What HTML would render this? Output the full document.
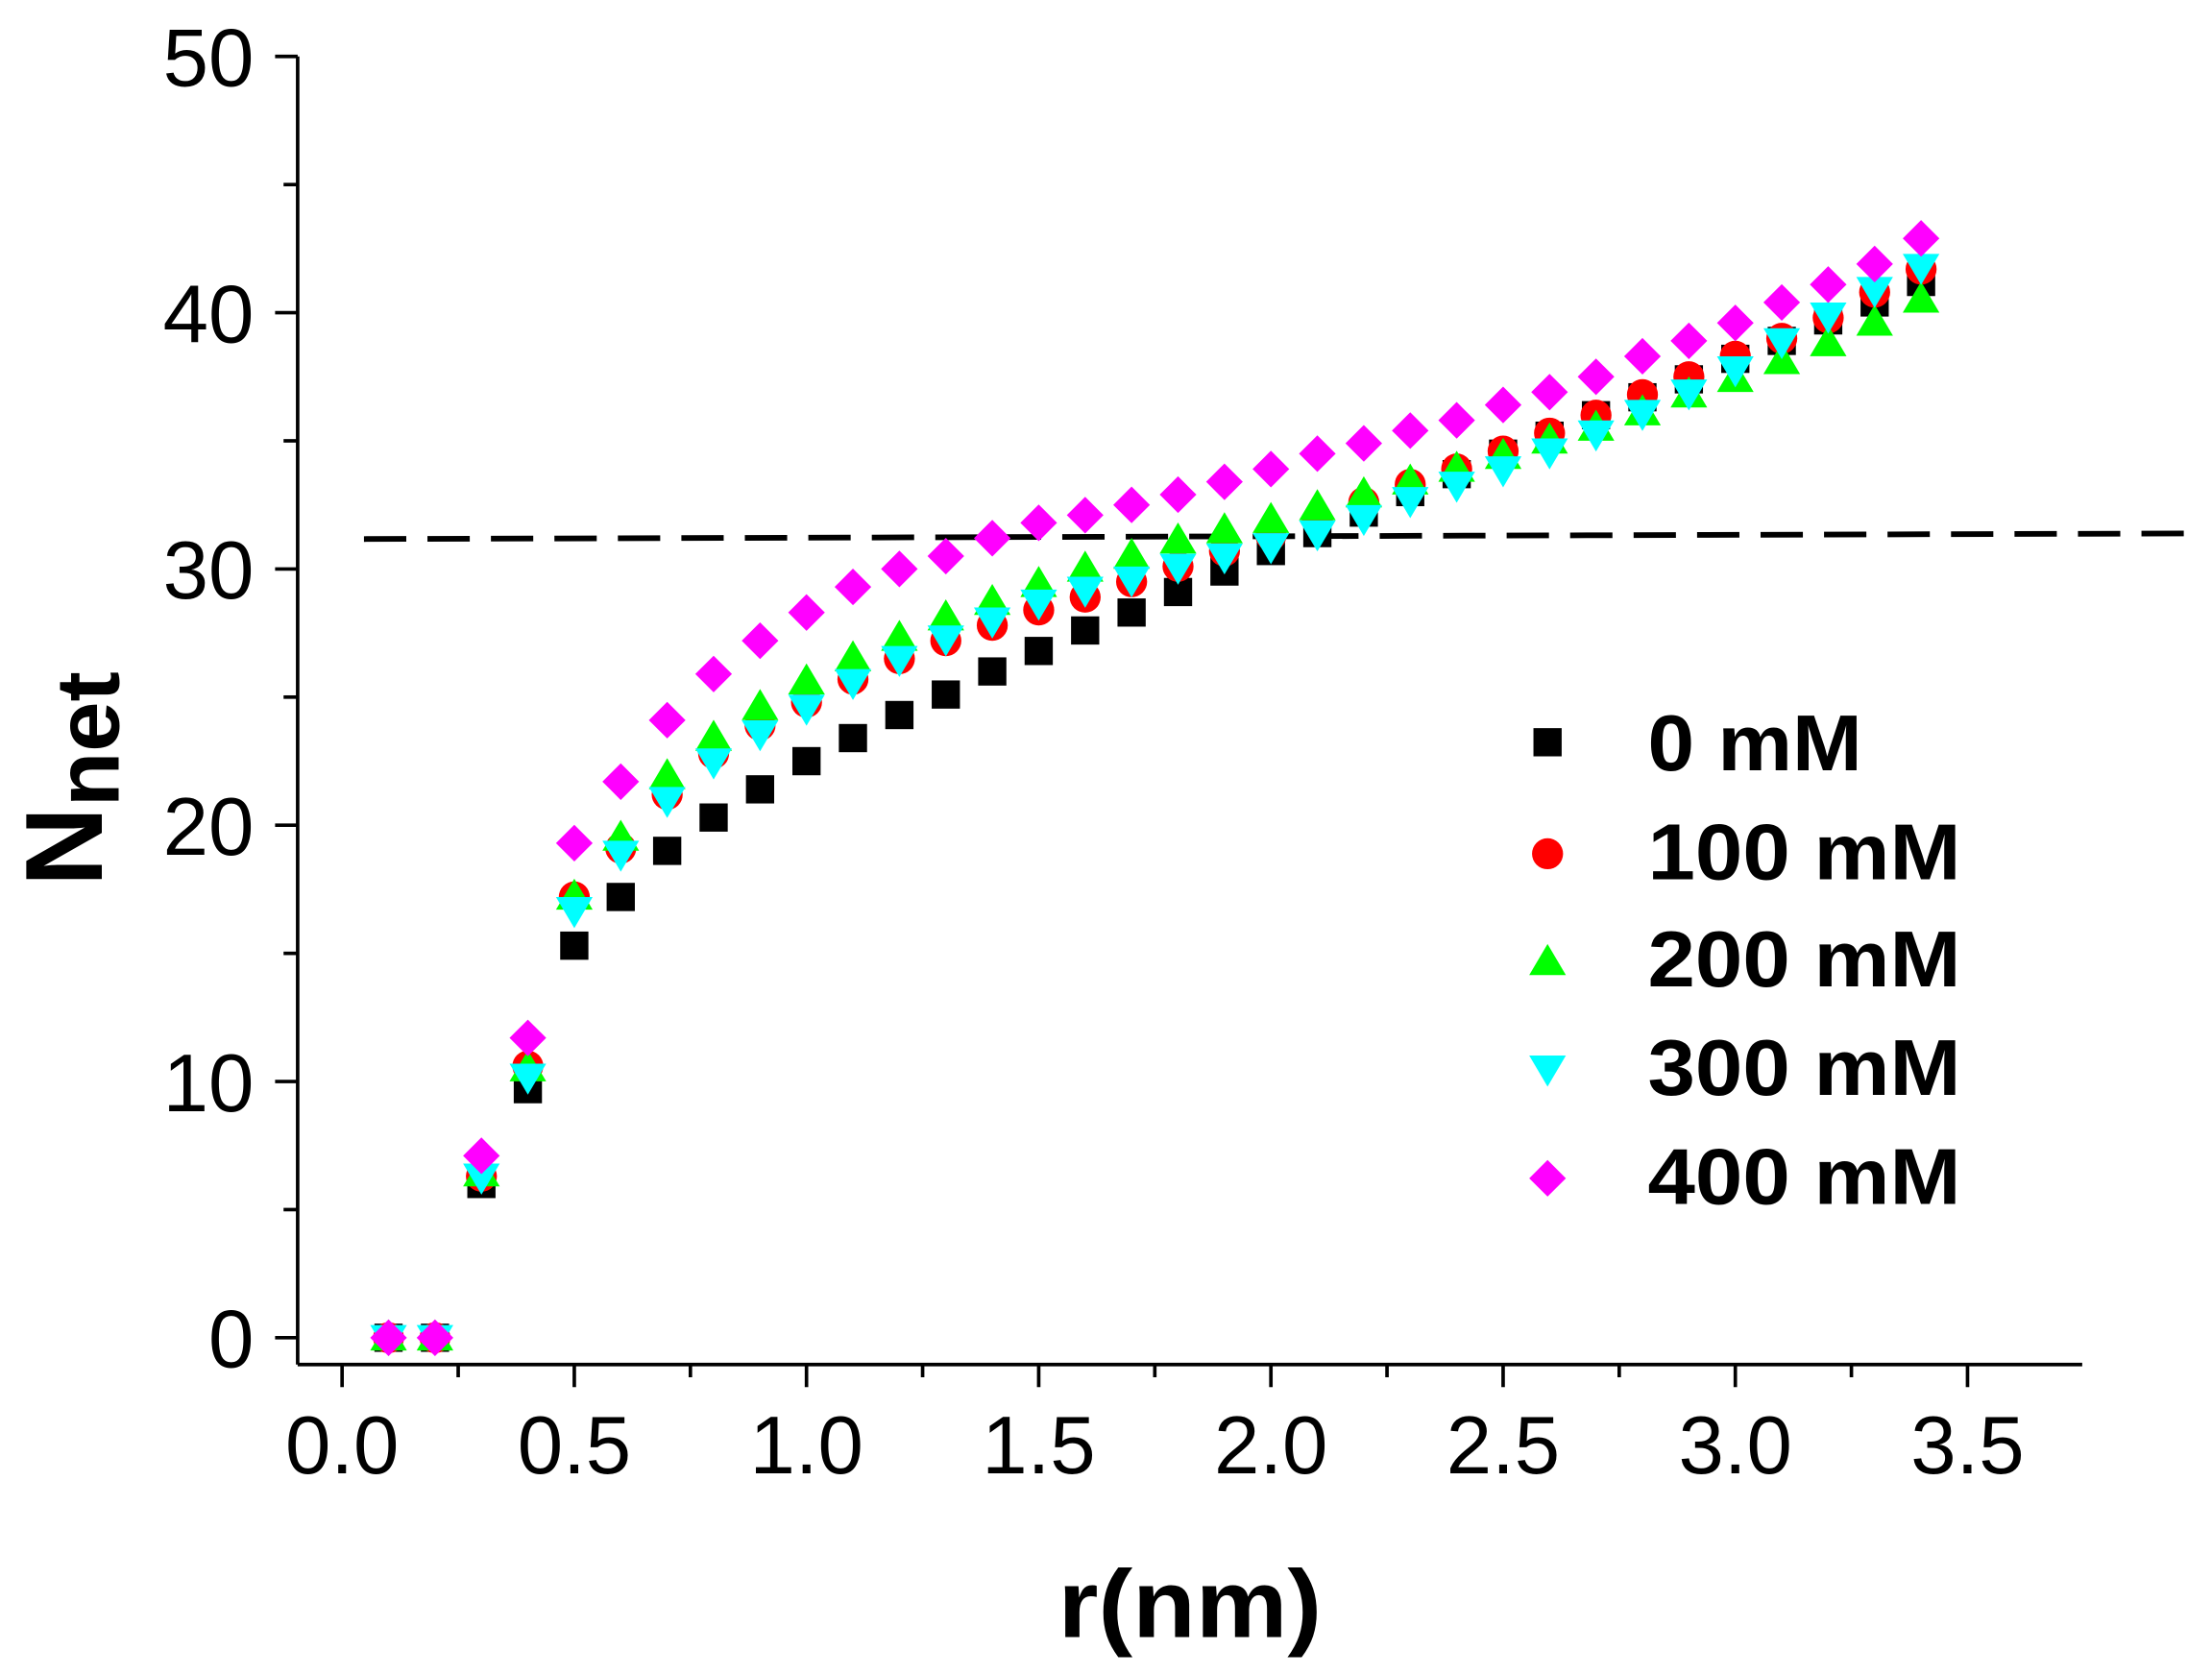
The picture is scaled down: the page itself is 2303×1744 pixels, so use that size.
<!DOCTYPE html>
<html><head><meta charset="utf-8">
<style>html,body{margin:0;padding:0;background:#fff;}svg{display:block;}</style>
</head><body>
<svg id="s" xmlns="http://www.w3.org/2000/svg" width="2303" height="1744" viewBox="0 0 1568 1187" preserveAspectRatio="none" font-family="Liberation Sans, Arial, sans-serif">
<rect width="1568" height="1187" fill="#fff"/>
<g id="axes" stroke="#000" stroke-width="2.5" fill="none">
<line x1="211" y1="40" x2="211" y2="967"/>
<line x1="211" y1="967" x2="1476" y2="967"/>
</g>
<line x1="258" y1="382" x2="1560" y2="378" stroke="#000" stroke-width="4" stroke-dasharray="30,15"/>
<g id="ticks" stroke="#000" stroke-width="2.5"></g>
<g id="labels" font-size="58" fill="#000"></g>
<g id="data"></g>
<text x="750" y="1160" font-size="68" font-weight="bold" textLength="187" lengthAdjust="spacingAndGlyphs">r(nm)</text>
<text transform="translate(72,552) rotate(-90)" font-size="78" font-weight="bold" text-anchor="middle">N<tspan font-size="64" dy="12">net</tspan></text>
<g font-size="56" font-weight="bold">
<rect x="1087" y="516" width="20" height="20" fill="#000"/><text x="1168" y="546" textLength="152" lengthAdjust="spacingAndGlyphs">0 mM</text>
<circle cx="1097" cy="605" r="11" fill="#f00"/><text x="1168" y="623" textLength="222" lengthAdjust="spacingAndGlyphs">100 mM</text>
<polygon points="1097,669 1110,691 1084,691" fill="#0f0"/><text x="1168" y="699" textLength="222" lengthAdjust="spacingAndGlyphs">200 mM</text>
<polygon points="1084,748 1110,748 1097,770" fill="#0ff"/><text x="1168" y="776" textLength="222" lengthAdjust="spacingAndGlyphs">300 mM</text>
<polygon points="1097,822 1110,835 1097,848 1084,835" fill="#f0f"/><text x="1168" y="853" textLength="222" lengthAdjust="spacingAndGlyphs">400 mM</text>
</g>
</svg>
<script>
var NS="http://www.w3.org/2000/svg";
function el(p,t,a){var e=document.createElementNS(NS,t);for(var k in a)e.setAttribute(k,a[k]);p.appendChild(e);return e;}
var X=function(r){return 242.5+r*329.2;}, Y=function(v){return 948-v*18.16;};
var tk=document.getElementById('ticks'), lb=document.getElementById('labels'), d=document.getElementById('data');
for(var v=0;v<=50;v+=5){var y=Y(v);el(tk,'line',{x1:v%10?201:195,y1:y,x2:211,y2:y});
 if(v%10==0){var t=el(lb,'text',{x:180,y:y+21,'text-anchor':'end'});t.textContent=v;}}
for(var i=0;i<=7;i++){var x=X(i*0.5);el(tk,'line',{x1:x,y1:967,x2:x,y2:983});
 var t=el(lb,'text',{x:x,y:1044,'text-anchor':'middle'});t.textContent=(i*0.5).toFixed(1);
 if(i<7){var x2=X(i*0.5+0.25);el(tk,'line',{x1:x2,y1:967,x2:x2,y2:976});}}
var S=[
[0,0,6,9.7,15.3,17.2,19,20.3,21.4,22.5,23.4,24.3,25.1,26,26.8,27.6,28.3,29.1,29.9,30.7,31.4,32.2,33,33.7,34.5,35.2,36,36.7,37.4,38.2,38.9,39.7,40.4,41.2],
[0,0,6.3,10.6,17.2,19.1,21.2,22.8,23.9,24.8,25.7,26.5,27.2,27.8,28.4,28.9,29.5,30.1,30.7,31.3,31.9,32.6,33.3,33.9,34.6,35.3,36,36.8,37.5,38.3,39,39.8,40.8,41.7],
[0,0,6.4,10.5,17.2,19.5,21.9,23.4,24.6,25.6,26.5,27.3,28.1,28.7,29.4,30,30.5,31.1,31.5,31.9,32.4,32.9,33.4,33.9,34.4,35,35.5,36.1,36.8,37.4,38.1,38.8,39.6,40.5],
[0,0,6.3,10.2,16.7,18.9,21,22.5,23.6,24.6,25.6,26.5,27.3,28,28.7,29.2,29.6,30.1,30.5,30.9,31.4,32,32.7,33.3,33.9,34.6,35.3,36.1,36.9,37.8,38.9,39.9,40.9,41.8],
[0,0,7.1,11.7,19.3,21.7,24.1,25.9,27.2,28.3,29.3,30,30.5,31.2,31.8,32.1,32.5,32.9,33.4,33.9,34.5,34.9,35.4,35.8,36.4,36.9,37.5,38.3,38.9,39.6,40.4,41.1,41.9,42.9]];
S.forEach(function(a,s){a.forEach(function(v,i){var x=X((i+1)*0.1),y=Y(v);
 if(s==0)el(d,'rect',{x:x-10,y:y-10,width:20,height:20,fill:'#000'});
 else if(s==1)el(d,'circle',{cx:x,cy:y,r:11,fill:'#f00'});
 else if(s==2)el(d,'polygon',{points:[x,y-13,x+13,y+9,x-13,y+9].join(' '),fill:'#0f0'});
 else if(s==3)el(d,'polygon',{points:[x-13,y-9,x+13,y-9,x,y+13].join(' '),fill:'#0ff'});
 else el(d,'polygon',{points:[x,y-13,x+13,y,x,y+13,x-13,y].join(' '),fill:'#f0f'});});});
</script>
</body></html>
